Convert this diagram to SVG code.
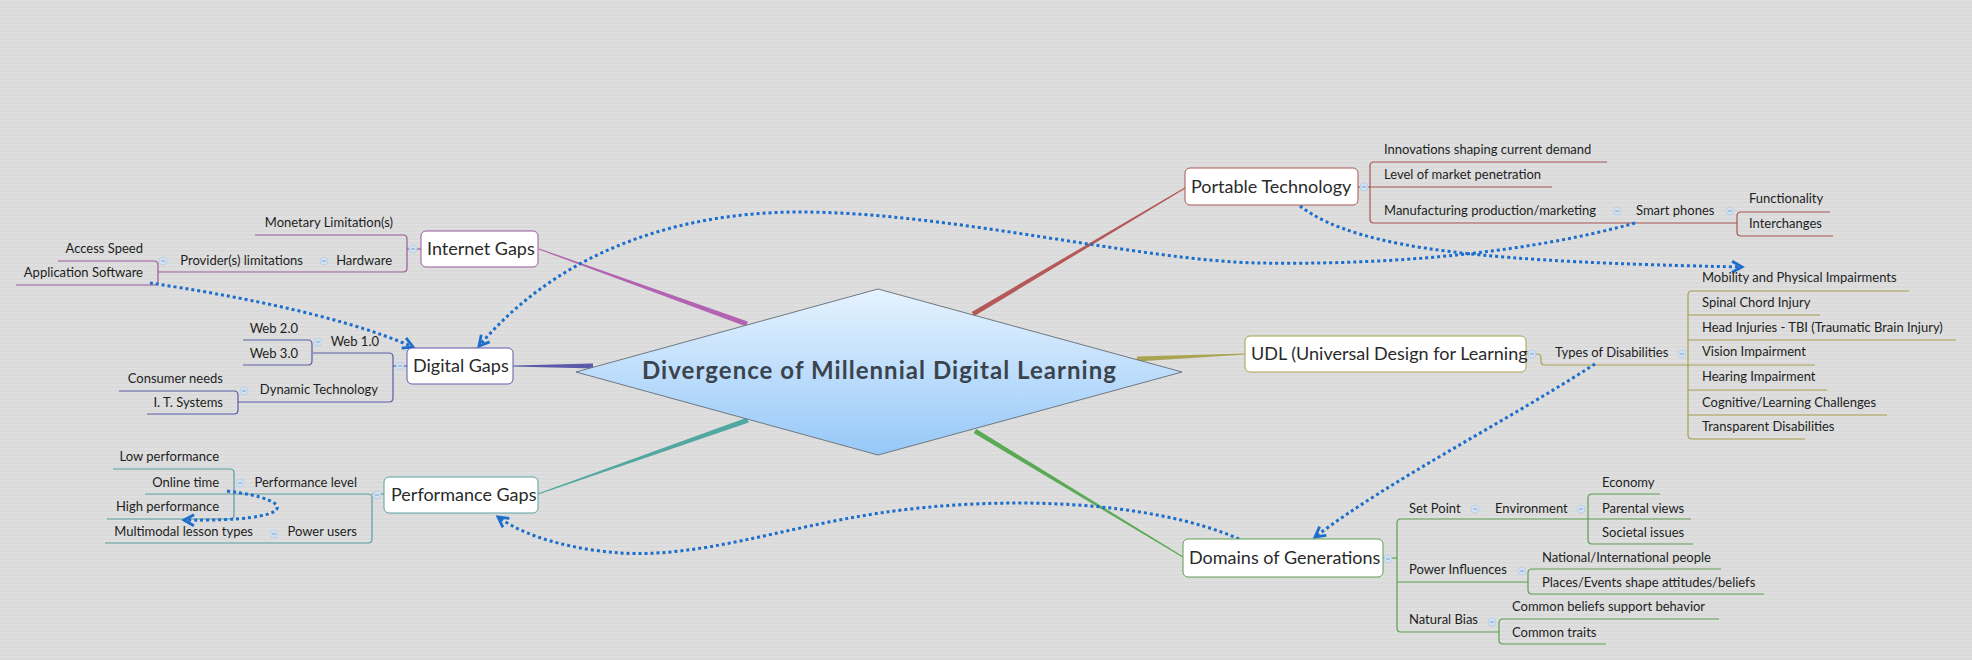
<svg xmlns="http://www.w3.org/2000/svg" xmlns:xlink="http://www.w3.org/1999/xlink" width="1972" height="660" viewBox="0 0 1972 660">
<defs>
<pattern id="bg" width="8" height="4" patternUnits="userSpaceOnUse">
<rect width="8" height="4" fill="#d9dad9"/>
<rect width="8" height="1.5" fill="#dfe0df"/>
</pattern>
<linearGradient id="cg" x1="0" y1="0" x2="0" y2="1">
<stop offset="0" stop-color="#e6f3ff"/>
<stop offset="1" stop-color="#96c8f8"/>
</linearGradient>
<marker id="ah" markerUnits="userSpaceOnUse" markerWidth="16" markerHeight="16" viewBox="0 0 16 16" refX="13" refY="8" orient="auto">
<path d="M3,2.5 L13,8 L3,13.5" fill="none" stroke="#1c6dcc" stroke-width="2.8"/>
</marker>
<g id="col">
<circle r="4" fill="#d3e2f2" stroke="#b4cbe3" stroke-width="0.8"/>
<path d="M-2,0 H2" stroke="#7aa3d0" stroke-width="1"/>
</g>
<style>
text{font-family:Lato,"Open Sans","Liberation Sans",sans-serif;fill:#1e1e1e}
.main{font-size:18px;fill:#2a2a2a}
.sub{font-size:13px}
.end{text-anchor:end}
.box{fill:#ffffff;stroke-width:1}
.br{fill:none;stroke-width:1.2}
.dot{fill:none;stroke:#1c6dcc;stroke-width:3;stroke-dasharray:3 3;marker-end:url(#ah)}
.title{font-size:24px;font-weight:bold;fill:#3b434c;text-anchor:middle}
</style>
</defs>
<rect width="1972" height="660" fill="url(#bg)"/>

<g id="connectors">
<polygon points="538.8,249.5 746.2,326.4 747.8,321.6 539.2,248.5" fill="#b264b2"/>
<polygon points="513,366.6 593,368.5 593,363.5 513,365.4" fill="#5b5aa8"/>
<polygon points="538.2,494.5 748.8,422.4 747.2,417.6 537.8,493.5" fill="#52a8a0"/>
<polygon points="1184.7,187.6 971.7,311.9 974.3,316.1 1185.3,188.4" fill="#b45858"/>
<polygon points="1245,353.5 1136.9,356.5 1137.1,361.5 1245,354.5" fill="#aaa452"/>
<polygon points="1183.3,556.6 976.3,428.9 973.7,433.1 1182.7,557.4" fill="#5aaa55"/>
<g stroke="#9a5a9a" class="br">
<path d="M255,235 L403,235 Q407,235 407,239 L407,268 Q407,272 403,272 L158,272"/>
<path d="M421,249 L407,249"/>
<path d="M58,261 L154,261 Q158,261 158,265 L158,281 Q158,285 154,285 L16,285"/>
</g>
<g stroke="#5c5ca8" class="br">
<path d="M313,353 L389,353 Q393,353 393,357 L393,398 Q393,402 389,402 L238,402"/>
<path d="M407,366 L393,366"/>
<path d="M243,340 L308,340 Q312,340 312,344 L312,361 Q312,365 308,365 L243,365"/>
<path d="M119,391 L234,391 Q238,391 238,395 L238,410 Q238,414 234,414 L147,414"/>
</g>
<g stroke="#5aa0a0" class="br">
<path d="M233,494 L368,494 Q372,494 372,498 L372,539 Q372,543 368,543 L105,543"/>
<path d="M384,494 L372,494"/>
<path d="M113,469 L230,469 Q234,469 234,473 L234,515 Q234,519 230,519 L107,519"/>
<path d="M145,494 L234,494"/>
</g>
<g stroke="#a85656" class="br">
<path d="M1358,187 L1370,187"/>
<path d="M1607,162 L1374,162 Q1370,162 1370,166 L1370,219 Q1370,223 1374,223 L1737,223"/>
<path d="M1370,187 L1552,187"/>
<path d="M1830,212 L1741,212 Q1737,212 1737,216 L1737,232 Q1737,236 1741,236 L1833,236"/>
</g>
<g stroke="#a8a050" class="br">
<path d="M1526,354 L1537,354 Q1541,354 1541,358 L1541,361 Q1541,365 1545,365 L1688,365"/>
<path d="M1909,291 L1692,291 Q1688,291 1688,295 L1688,435 Q1688,439 1692,439 L1805,439"/>
<path d="M1688,315 L1820,315 M1688,340 L1956,340 M1688,365 L1815,365 M1688,390 L1827,390 M1688,415 L1887,415"/>
</g>
<g stroke="#5e9e52" class="br">
<path d="M1383,558 L1397,558"/>
<path d="M1588,519 L1401,519 Q1397,519 1397,523 L1397,628 Q1397,632 1401,632 L1499,632"/>
<path d="M1397,582 L1528,582"/>
<path d="M1660,494 L1592,494 Q1588,494 1588,498 L1588,540 Q1588,544 1592,544 L1693,544"/>
<path d="M1588,519 L1691,519"/>
<path d="M1721,569 L1532,569 Q1528,569 1528,573 L1528,590 Q1528,594 1532,594 L1764,594"/>
<path d="M1719,619 L1503,619 Q1499,619 1499,623 L1499,640 Q1499,644 1503,644 L1606,644"/>
</g>
<path class="dot" d="M150,283 C230,295 340,315 413,347"/>
<path class="dot" d="M1635,223 C1520,255 1380,265 1260,263 C1140,261 950,212 800,212 C680,212 560,250 479,346"/>
<path class="dot" d="M1300,206 C1360,252 1500,262 1742,267"/>
<path class="dot" d="M1595,364 C1500,425 1390,480 1315,537"/>
<path class="dot" d="M1239,539 C1150,500 1000,495 880,513 C780,528 700,558 620,553 C580,550 530,540 498,517"/>
<path class="dot" d="M227,491 C300,500 300,522 184,520"/>
</g>

<g id="center">
<polygon points="576,372 878,289 1182,372 878,455" fill="url(#cg)" stroke="#6f7880" stroke-width="1"/>
<text class="title" x="879" y="379" textLength="474">Divergence of Millennial Digital Learning</text>
</g>

<g id="internet-gaps">
<rect class="box" x="421" y="231" width="117" height="36" rx="5" stroke="#9a5a9a"/>
<text class="main" x="427" y="255">Internet Gaps</text>
<use href="#col" x="413" y="249"/>
<text class="sub end" x="393" y="227">Monetary Limitation(s)</text>
<text class="sub end" x="392" y="265">Hardware</text>
<use href="#col" x="324" y="261"/>
<text class="sub end" x="303" y="265">Provider(s) limitations</text>
<use href="#col" x="163" y="261"/>
<text class="sub end" x="143" y="253">Access Speed</text>
<text class="sub end" x="143" y="277">Application Software</text>
</g>

<g id="digital-gaps">
<rect class="box" x="407" y="348" width="106" height="36" rx="5" stroke="#5c5ca8"/>
<text class="main" x="413" y="372">Digital Gaps</text>
<use href="#col" x="400" y="366"/>
<text class="sub end" x="379" y="346">Web 1.0</text>
<use href="#col" x="318" y="342"/>
<text class="sub end" x="298" y="333">Web 2.0</text>
<text class="sub end" x="298" y="358">Web 3.0</text>
<text class="sub end" x="378" y="394">Dynamic Technology</text>
<use href="#col" x="244" y="391"/>
<text class="sub end" x="223" y="383">Consumer needs</text>
<text class="sub end" x="223" y="407">I. T. Systems</text>
</g>

<g id="performance-gaps">
<rect class="box" x="384" y="477" width="154" height="36" rx="5" stroke="#5aa0a0"/>
<text class="main" x="391" y="501">Performance Gaps</text>
<use href="#col" x="377" y="495"/>
<text class="sub end" x="357" y="487">Performance level</text>
<use href="#col" x="240" y="483"/>
<text class="sub end" x="219" y="461">Low performance</text>
<text class="sub end" x="219" y="487">Online time</text>
<text class="sub end" x="219" y="511">High performance</text>
<text class="sub end" x="357" y="536">Power users</text>
<use href="#col" x="274" y="534"/>
<text class="sub end" x="253" y="536">Multimodal lesson types</text>
</g>

<g id="portable-technology">
<rect class="box" x="1185" y="168" width="173" height="37" rx="5" stroke="#a85656"/>
<text class="main" x="1191" y="193">Portable Technology</text>
<use href="#col" x="1364" y="187"/>
<text class="sub" x="1384" y="154">Innovations shaping current demand</text>
<text class="sub" x="1384" y="179">Level of market penetration</text>
<text class="sub" x="1384" y="215">Manufacturing production/marketing</text>
<use href="#col" x="1617" y="211"/>
<text class="sub" x="1636" y="215">Smart phones</text>
<use href="#col" x="1730" y="211"/>
<text class="sub" x="1749" y="203">Functionality</text>
<text class="sub" x="1749" y="228">Interchanges</text>
</g>

<g id="udl">
<rect class="box" x="1245" y="336" width="281" height="36" rx="5" stroke="#a8a050"/>
<text class="main" x="1251" y="360">UDL (Universal Design for Learning</text>
<use href="#col" x="1532" y="354"/>
<text class="sub" x="1555" y="357">Types of Disabilities</text>
<use href="#col" x="1682" y="354"/>
<text class="sub" x="1702" y="282">Mobility and Physical Impairments</text>
<text class="sub" x="1702" y="307">Spinal Chord Injury</text>
<text class="sub" x="1702" y="332">Head Injuries - TBI (Traumatic Brain Injury)</text>
<text class="sub" x="1702" y="356">Vision Impairment</text>
<text class="sub" x="1702" y="381">Hearing Impairment</text>
<text class="sub" x="1702" y="407">Cognitive/Learning Challenges</text>
<text class="sub" x="1702" y="431">Transparent Disabilities</text>
</g>

<g id="domains-of-generations">
<rect class="box" x="1183" y="539" width="200" height="38" rx="5" stroke="#5e9e52"/>
<text class="main" x="1189" y="564">Domains of Generations</text>
<use href="#col" x="1388" y="559"/>
<text class="sub" x="1409" y="513">Set Point</text>
<use href="#col" x="1475" y="509"/>
<text class="sub" x="1495" y="513">Environment</text>
<use href="#col" x="1581" y="509"/>
<text class="sub" x="1602" y="487">Economy</text>
<text class="sub" x="1602" y="513">Parental views</text>
<text class="sub" x="1602" y="537">Societal issues</text>
<text class="sub" x="1409" y="574">Power Influences</text>
<use href="#col" x="1522" y="571"/>
<text class="sub" x="1542" y="562">National/International people</text>
<text class="sub" x="1542" y="587">Places/Events shape attitudes/beliefs</text>
<text class="sub" x="1409" y="624">Natural Bias</text>
<use href="#col" x="1492" y="622"/>
<text class="sub" x="1512" y="611">Common beliefs support behavior</text>
<text class="sub" x="1512" y="637">Common traits</text>
</g>
</svg>
